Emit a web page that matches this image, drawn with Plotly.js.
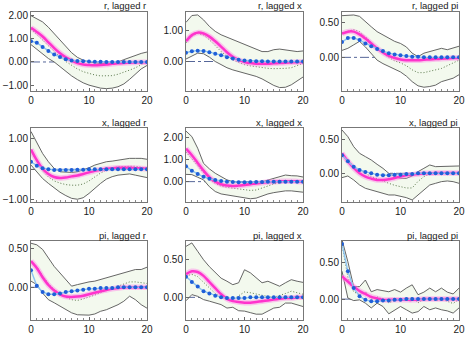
<!DOCTYPE html>
<html><head><meta charset="utf-8">
<script src="https://cdn.plot.ly/plotly-3.0.1.min.js"></script>
<style>body{margin:0;padding:0;background:#fff}#c{width:474px;height:340px}</style>
</head><body><div id="c"></div>
<script>
const horizon = [0,1,2,3,4,5,6,7,8,9,10,11,12,13,14,15,16,17,18,19,20];
const titles = ["r, lagged r","r, lagged x","r, lagged pi","x, lagged r","x, lagged x","x, lagged pi","pi, lagged r","pi, lagged x","pi, lagged pi"];

// r, lagged r
const rr_hi   = [2.0,1.88,1.73,1.5,1.22,0.93,0.65,0.4,0.2,0.08,0.0,-0.05,-0.07,-0.07,-0.05,0.0,0.1,0.2,0.29,0.37,0.43];
const rr_lo   = [0.75,0.55,0.35,0.15,0.0,-0.2,-0.42,-0.6,-0.76,-0.9,-1.0,-1.08,-1.13,-1.15,-1.13,-1.07,-0.95,-0.75,-0.52,-0.3,-0.15];
const rr_med  = [1.42,1.2,0.95,0.7,0.45,0.22,0.02,-0.15,-0.3,-0.42,-0.5,-0.56,-0.6,-0.61,-0.59,-0.53,-0.45,-0.35,-0.25,-0.12,0.05];
const rr_mean = [1.48,1.3,1.1,0.85,0.6,0.38,0.2,0.06,-0.05,-0.11,-0.13,-0.14,-0.13,-0.11,-0.08,-0.06,-0.04,-0.03,-0.02,-0.01,-0.01];
const rr_ols  = [0.9,0.83,0.65,0.47,0.32,0.22,0.12,0.06,0.04,0.03,0.02,0.01,0.01,0.0,0.0,0.0,0.0,0.0,0.0,0.0,0.0];

// r, lagged x
const rx_hi   = [1.26,1.48,1.5,1.34,1.13,0.97,0.86,0.78,0.7,0.62,0.56,0.48,0.38,0.32,0.32,0.38,0.4,0.38,0.36,0.32,0.34];
const rx_lo   = [0.08,0.18,0.27,0.25,0.14,0.0,-0.1,-0.2,-0.27,-0.32,-0.38,-0.43,-0.48,-0.56,-0.67,-0.77,-0.84,-0.83,-0.75,-0.62,-0.5];
const rx_med  = [0.6,0.82,0.9,0.85,0.7,0.5,0.32,0.16,0.05,-0.03,-0.1,-0.14,-0.17,-0.2,-0.22,-0.23,-0.23,-0.22,-0.2,-0.14,-0.06];
const rx_mean = [0.65,0.85,0.93,0.9,0.8,0.65,0.48,0.3,0.15,0.05,-0.02,-0.05,-0.07,-0.07,-0.07,-0.06,-0.05,-0.04,-0.03,-0.02,-0.02];
const rx_ols  = [0.28,0.33,0.35,0.34,0.3,0.25,0.2,0.14,0.1,0.06,0.03,0.02,0.01,0.01,0.0,0.0,0.0,0.0,0.0,0.0,0.0];

// r, lagged pi
const rp_hi   = [0.6,0.61,0.61,0.59,0.51,0.44,0.37,0.32,0.27,0.23,0.2,0.15,0.06,0.01,0.06,0.08,0.11,0.13,0.11,0.13,0.16];
const rp_lo   = [0.1,0.13,0.18,0.23,0.15,0.06,-0.04,-0.09,-0.13,-0.17,-0.21,-0.27,-0.35,-0.41,-0.43,-0.42,-0.4,-0.35,-0.33,-0.3,-0.25];
const rp_med  = [0.35,0.38,0.4,0.37,0.3,0.22,0.14,0.06,0.0,-0.05,-0.08,-0.12,-0.18,-0.22,-0.22,-0.2,-0.18,-0.16,-0.12,-0.08,-0.04];
const rp_mean = [0.34,0.37,0.37,0.33,0.27,0.2,0.13,0.07,0.02,-0.01,-0.03,-0.04,-0.04,-0.04,-0.035,-0.03,-0.025,-0.02,-0.015,-0.01,-0.01];
const rp_ols  = [0.22,0.28,0.28,0.25,0.2,0.16,0.12,0.09,0.06,0.04,0.03,0.02,0.01,0.01,0.0,0.0,0.0,0.0,0.0,0.0,0.0];

// x, lagged r
const xr_hi   = [1.24,0.9,0.52,0.25,0.03,-0.08,-0.1,-0.1,-0.08,-0.02,0.05,0.14,0.2,0.25,0.27,0.3,0.34,0.36,0.36,0.36,0.33];
const xr_lo   = [0.14,-0.08,-0.3,-0.46,-0.62,-0.75,-0.86,-0.95,-0.98,-0.93,-0.79,-0.62,-0.46,-0.32,-0.24,-0.19,-0.16,-0.15,-0.19,-0.22,-0.27];
const xr_med  = [0.6,0.25,-0.05,-0.25,-0.38,-0.45,-0.5,-0.52,-0.52,-0.48,-0.38,-0.25,-0.12,-0.02,0.05,0.08,0.1,0.1,0.1,0.07,0.04];
const xr_mean = [0.65,0.3,0.02,-0.15,-0.25,-0.28,-0.27,-0.23,-0.2,-0.15,-0.1,-0.05,-0.01,0.02,0.04,0.05,0.05,0.05,0.04,0.03,0.02];
const xr_ols  = [0.25,0.12,0.04,0.0,-0.02,-0.02,-0.02,-0.02,-0.01,-0.01,0.0,0.0,0.0,0.0,0.0,0.0,0.0,0.0,0.0,0.0,0.0];

// x, lagged x
const xx_hi   = [2.3,2.05,1.52,0.83,0.58,0.38,0.23,0.08,0.0,-0.03,-0.05,-0.08,-0.08,0.0,0.08,0.15,0.23,0.3,0.27,0.26,0.21];
const xx_lo   = [0.33,0.32,0.2,0.08,-0.23,-0.45,-0.56,-0.6,-0.65,-0.7,-0.75,-0.78,-0.75,-0.65,-0.56,-0.5,-0.45,-0.42,-0.42,-0.45,-0.48];
const xx_med  = [1.35,1.05,0.75,0.4,0.1,-0.08,-0.2,-0.26,-0.3,-0.33,-0.36,-0.4,-0.38,-0.3,-0.2,-0.1,-0.05,0.0,0.02,0.02,0.0];
const xx_mean = [1.5,1.2,0.85,0.5,0.2,0.0,-0.12,-0.18,-0.2,-0.18,-0.15,-0.12,-0.08,-0.05,-0.02,0.0,0.01,0.02,0.02,0.01,0.0];
const xx_ols  = [0.7,0.5,0.35,0.22,0.13,0.07,0.03,0.0,-0.02,-0.03,-0.03,-0.03,-0.02,-0.02,-0.01,0.0,0.0,0.0,0.0,0.0,0.0];

// x, lagged pi
const xp_hi   = [0.65,0.55,0.4,0.3,0.25,0.2,0.135,0.075,0.0,-0.05,-0.075,-0.075,-0.04,0.025,0.075,0.125,0.1,0.1,0.11,0.11,0.11];
const xp_lo   = [-0.065,-0.04,-0.1,-0.175,-0.225,-0.25,-0.265,-0.3,-0.325,-0.325,-0.34,-0.365,-0.4,-0.325,-0.25,-0.175,-0.15,-0.125,-0.115,-0.125,-0.15];
const xp_med  = [0.28,0.2,0.1,0.05,0.0,-0.05,-0.08,-0.12,-0.15,-0.18,-0.2,-0.22,-0.22,-0.12,-0.05,-0.01,0.0,0.0,0.0,0.0,0.0];
const xp_mean = [0.3,0.18,0.08,0.0,-0.05,-0.08,-0.1,-0.1,-0.09,-0.07,-0.05,-0.03,-0.02,-0.01,0.0,0.0,0.005,0.005,0.005,0.005,0.005];
const xp_ols  = [0.27,0.18,0.1,0.05,0.02,0.0,-0.02,-0.03,-0.03,-0.02,-0.02,-0.01,-0.01,0.0,0.0,0.0,0.0,0.0,0.0,0.0,0.0];

// pi, lagged r
const pr_hi   = [0.57,0.55,0.49,0.38,0.27,0.185,0.1,0.015,0.035,0.055,0.07,0.08,0.1,0.12,0.14,0.165,0.185,0.21,0.23,0.23,0.26];
const pr_lo   = [0.08,0.035,-0.075,-0.16,-0.2,-0.245,-0.29,-0.33,-0.355,-0.36,-0.36,-0.345,-0.31,-0.29,-0.26,-0.225,-0.18,-0.115,-0.16,-0.225,-0.27];
const pr_med  = [0.33,0.27,0.15,0.05,-0.03,-0.08,-0.13,-0.16,-0.17,-0.15,-0.13,-0.1,-0.07,-0.04,-0.01,0.02,0.05,0.07,0.07,0.06,0.05];
const pr_mean = [0.34,0.25,0.13,0.03,-0.04,-0.09,-0.12,-0.125,-0.12,-0.11,-0.09,-0.07,-0.05,-0.035,-0.02,-0.01,0.0,0.0,0.0,0.0,0.0];
const pr_ols  = [0.22,0.02,-0.06,-0.09,-0.09,-0.08,-0.06,-0.05,-0.04,-0.03,-0.02,-0.02,-0.01,-0.01,-0.01,0.0,0.0,0.0,0.0,0.0,0.0];

// pi, lagged x
const px_hi   = [0.665,0.71,0.6,0.49,0.4,0.32,0.25,0.21,0.165,0.19,0.36,0.32,0.25,0.19,0.21,0.175,0.145,0.19,0.23,0.21,0.195];
const px_lo   = [-0.045,0.035,0.013,-0.03,-0.05,-0.075,-0.095,-0.14,-0.13,-0.175,-0.18,-0.2,-0.22,-0.22,-0.18,-0.14,-0.13,-0.075,-0.075,-0.095,-0.12];
const px_med  = [0.28,0.3,0.27,0.2,0.12,0.05,0.0,-0.02,-0.03,0.02,0.07,0.06,0.04,0.02,0.01,0.0,0.02,0.05,0.08,0.06,0.04];
const px_mean = [0.3,0.34,0.33,0.28,0.2,0.12,0.04,-0.02,-0.05,-0.06,-0.07,-0.07,-0.06,-0.05,-0.04,-0.03,-0.02,-0.01,-0.01,0.0,0.0];
const px_ols  = [0.27,0.2,0.14,0.08,0.05,0.02,0.0,-0.01,-0.01,-0.01,-0.01,0.0,0.0,0.0,0.0,0.0,0.0,0.0,0.0,0.0,0.0];

// pi, lagged pi
const pp_hi   = [0.81,0.51,0.17,0.17,0.26,0.1,0.13,0.11,0.1,0.13,0.095,0.15,0.195,0.06,0.095,0.15,0.1,0.15,0.095,0.07,0.15];
const pp_lo   = [0.38,0.015,-0.02,-0.01,-0.055,-0.12,-0.055,-0.1,-0.2,-0.145,-0.1,-0.145,-0.19,-0.17,-0.1,-0.145,-0.12,-0.145,-0.16,-0.19,-0.12];
const pp_med  = [0.75,0.3,0.1,0.06,0.1,0.0,0.03,0.0,-0.05,-0.02,-0.01,0.0,0.02,-0.05,0.0,0.02,-0.02,0.0,-0.03,-0.06,0.0];
const pp_mean = [0.31,0.24,0.17,0.11,0.07,0.03,0.01,-0.01,-0.01,-0.01,-0.01,-0.01,-0.01,-0.005,0.0,0.0,0.0,0.0,0.0,0.0,0.0];
const pp_ols  = [0.75,0.38,0.15,0.04,-0.01,-0.03,-0.03,-0.02,-0.02,-0.01,-0.01,0.0,0.0,0.0,0.0,0.0,0.0,0.0,0.0,0.0,0.0];

const panels = [
  [rr_hi,rr_lo,rr_med,rr_mean,rr_ols],[rx_hi,rx_lo,rx_med,rx_mean,rx_ols],[rp_hi,rp_lo,rp_med,rp_mean,rp_ols],
  [xr_hi,xr_lo,xr_med,xr_mean,xr_ols],[xx_hi,xx_lo,xx_med,xx_mean,xx_ols],[xp_hi,xp_lo,xp_med,xp_mean,xp_ols],
  [pr_hi,pr_lo,pr_med,pr_mean,pr_ols],[px_hi,px_lo,px_med,px_mean,px_ols],[pp_hi,pp_lo,pp_med,pp_mean,pp_ols]
];
const yRanges = [[-1.24,2.18],[-0.94,1.61],[-0.48,0.66],[-1.08,1.355],[-0.94,2.44],[-0.435,0.68],[-0.419,0.603],[-0.292,0.739],[-0.28,0.795]];
const yDticks = [1,1,0.5,1,1,0.5,0.5,0.5,0.5];

const W=474,H=340;
const colX = [[31,147],[186,303],[342,459]];
const rowY = [[11.5,90.7],[128,202.3],[240.7,319.7]];
const FONT='Liberation Sans, Arial, sans-serif';

const traces=[]; const layout={width:W,height:H,margin:{l:0,r:0,t:0,b:0},showlegend:false,
  paper_bgcolor:'#fff',plot_bgcolor:'#fff',font:{family:FONT,size:10,color:'#333'},
  annotations:[],shapes:[]};

panels.forEach((p,i)=>{
  const r=Math.floor(i/3), c=i%3, n=i+1;
  const xa='x'+(n===1?'':n), ya='y'+(n===1?'':n);
  const xk='xaxis'+(n===1?'':n), yk='yaxis'+(n===1?'':n);
  layout[xk]={domain:[colX[c][0]/W,colX[c][1]/W],anchor:ya,range:[0,20],dtick:10,tick0:0,
    showgrid:false,zeroline:false,showline:true,mirror:true,linecolor:'#777',linewidth:1,ticks:'inside',ticklen:3,tickcolor:'#666',
    minor:{dtick:1,ticks:'inside',ticklen:2,tickcolor:'#888'},
    tickfont:{size:10,color:'#1a1a1a',family:FONT}};
  layout[yk]={domain:[1-rowY[r][1]/H,1-rowY[r][0]/H],anchor:xa,range:yRanges[i],dtick:yDticks[i],tick0:0,
    tickformat:'.2f',showgrid:false,zeroline:false,showline:true,mirror:true,linecolor:'#777',linewidth:1,ticks:'inside',ticklen:3,tickcolor:'#666',
    tickfont:{size:10,color:'#1a1a1a',family:FONT}};
  const [hi,lo,med,mean,ols]=p;
  traces.push({x:horizon,y:lo,xaxis:xa,yaxis:ya,mode:'lines',line:{color:'#555',width:0.9},hoverinfo:'skip'});
  traces.push({x:horizon,y:hi,xaxis:xa,yaxis:ya,mode:'lines',fill:'tonexty',fillcolor:'#f3f9ee',line:{color:'#555',width:0.9},hoverinfo:'skip'});
  traces.push({x:horizon,y:med,xaxis:xa,yaxis:ya,mode:'lines',line:{color:'#4a6a3a',width:0.9,dash:'1px,2px'}});
  traces.push({x:horizon,y:mean,xaxis:xa,yaxis:ya,mode:'lines',line:{color:'rgba(255,130,230,0.45)',width:5.5,shape:'spline'}});
  traces.push({x:horizon,y:mean,xaxis:xa,yaxis:ya,mode:'lines',line:{color:'#ff33cc',width:2.5,shape:'spline'}});
  traces.push({x:horizon,y:ols,xaxis:xa,yaxis:ya,mode:'lines+markers',line:{color:'#8cc4f2',width:1.4},marker:{color:'#1f5fd8',size:4}});
  layout.shapes.push({type:'line',xref:xa,yref:ya,x0:0,x1:20,y0:0,y1:0,line:{color:'#556699',width:1,dash:'dashdot'},layer:'below'});
  layout.annotations.push({text:titles[i],xref:'paper',yref:'paper',x:colX[c][1]/W,y:1-rowY[r][0]/H,xanchor:'right',yanchor:'bottom',
    yshift:-1,borderpad:0,showarrow:false,font:{size:9.5,color:'#1a1a1a',family:FONT}});
});
Plotly.newPlot('c',traces,layout,{staticPlot:true});
</script></body></html>
